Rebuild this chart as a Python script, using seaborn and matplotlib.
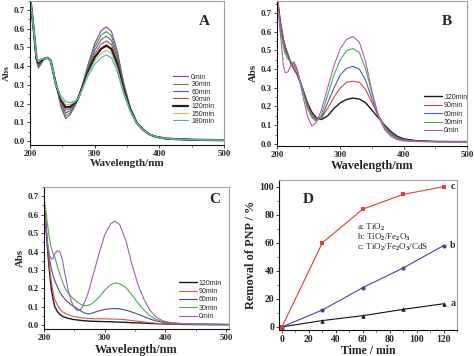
import numpy as np
import pandas as pd
import matplotlib
matplotlib.use("Agg")
import matplotlib.pyplot as plt
import matplotlib.ticker as mticker
import seaborn as sns

# -----------------------------------------------------------------------------
# Plotting attributes
# -----------------------------------------------------------------------------
sns.set_theme(style="ticks")
plt.rcParams["font.family"] = ["Liberation Serif", "DejaVu Serif"]
plt.rcParams["font.weight"] = "bold"
plt.rcParams["axes.labelweight"] = "bold"
plt.rcParams["mathtext.fontset"] = "custom"
plt.rcParams["mathtext.rm"] = "Liberation Serif"
plt.rcParams["mathtext.it"] = "Liberation Serif:italic"
plt.rcParams["mathtext.bf"] = "Liberation Serif:bold"

lw = 0.8
tick_fs = 6.3
leg_font = {"family": "Liberation Sans", "size": 5.0, "weight": "normal"}

# -----------------------------------------------------------------------------
# Data
# -----------------------------------------------------------------------------

# Panel A
wl_a = [200, 205, 210, 213, 217, 222, 227, 232, 240, 248, 255, 262, 270, 274, 280, 290,
        300, 310, 318, 326, 335, 345, 355, 365, 375, 385, 395, 410, 430, 460, 500]
a_0 = [0.78, 0.62, 0.43, 0.39, 0.41, 0.44, 0.445, 0.43, 0.31, 0.18, 0.12, 0.14, 0.19, 0.225, 0.29, 0.41,
       0.52, 0.59, 0.61, 0.585, 0.48, 0.31, 0.18, 0.10, 0.06, 0.035, 0.022, 0.013, 0.009, 0.006, 0.004]
a_30 = [0.78, 0.62, 0.433, 0.397, 0.415, 0.44, 0.445, 0.43, 0.308, 0.19, 0.135, 0.151, 0.194, 0.225, 0.287, 0.40,
        0.502, 0.566, 0.585, 0.562, 0.462, 0.30, 0.177, 0.099, 0.06, 0.035, 0.022, 0.013, 0.009, 0.006, 0.004]
a_60 = [0.78, 0.62, 0.437, 0.403, 0.42, 0.44, 0.445, 0.43, 0.307, 0.20, 0.15, 0.162, 0.198, 0.225, 0.283, 0.39,
        0.483, 0.542, 0.56, 0.538, 0.443, 0.29, 0.173, 0.098, 0.06, 0.035, 0.022, 0.013, 0.009, 0.006, 0.004]
a_90 = [0.78, 0.62, 0.44, 0.41, 0.425, 0.44, 0.445, 0.43, 0.305, 0.21, 0.165, 0.173, 0.203, 0.225, 0.28, 0.38,
        0.465, 0.518, 0.535, 0.515, 0.425, 0.28, 0.17, 0.097, 0.06, 0.035, 0.022, 0.013, 0.009, 0.006, 0.004]
a_120 = [0.78, 0.62, 0.443, 0.417, 0.43, 0.44, 0.445, 0.43, 0.303, 0.22, 0.18, 0.183, 0.207, 0.225, 0.277, 0.37,
         0.447, 0.493, 0.51, 0.492, 0.407, 0.27, 0.167, 0.097, 0.06, 0.035, 0.022, 0.013, 0.009, 0.006, 0.004]
a_150 = [0.78, 0.62, 0.447, 0.423, 0.435, 0.44, 0.445, 0.43, 0.302, 0.23, 0.195, 0.194, 0.211, 0.225, 0.273, 0.36,
         0.428, 0.469, 0.485, 0.468, 0.388, 0.26, 0.163, 0.096, 0.06, 0.035, 0.022, 0.013, 0.009, 0.006, 0.004]
a_180 = [0.78, 0.62, 0.45, 0.43, 0.44, 0.44, 0.445, 0.43, 0.30, 0.24, 0.21, 0.205, 0.215, 0.225, 0.27, 0.35,
         0.41, 0.445, 0.46, 0.445, 0.37, 0.25, 0.16, 0.095, 0.06, 0.035, 0.022, 0.013, 0.009, 0.006, 0.004]
labels_a = ["0min", "30min", "60min", "90min", "120min", "150min", "180min"]
colors_a = ["#8E3E8E", "#3A9A3A", "#4A5FB0", "#D84040", "#202020", "#C8C060", "#40B8B8"]

# Panel B
wl_b = [200, 205, 210, 213, 217, 222, 227, 232, 240, 248, 255, 262, 270, 280, 290,
        300, 310, 320, 330, 340, 350, 360, 370, 380, 390, 400, 420, 450, 500]
b_120 = [0.80, 0.66, 0.56, 0.52, 0.48, 0.43, 0.40, 0.37, 0.30, 0.22, 0.17, 0.14, 0.13, 0.15, 0.19,
         0.22, 0.238, 0.245, 0.24, 0.22, 0.18, 0.14, 0.10, 0.065, 0.04, 0.027, 0.017, 0.013, 0.012]
b_90 = [0.80, 0.66, 0.56, 0.52, 0.48, 0.43, 0.40, 0.37, 0.30, 0.21, 0.16, 0.13, 0.135, 0.19, 0.25,
        0.30, 0.33, 0.335, 0.33, 0.29, 0.22, 0.15, 0.095, 0.055, 0.033, 0.022, 0.015, 0.012, 0.011]
b_60 = [0.80, 0.64, 0.54, 0.50, 0.47, 0.43, 0.42, 0.39, 0.30, 0.20, 0.15, 0.125, 0.14, 0.22, 0.30,
        0.37, 0.405, 0.415, 0.40, 0.34, 0.24, 0.15, 0.09, 0.05, 0.03, 0.02, 0.014, 0.012, 0.01]
b_30 = [0.80, 0.62, 0.52, 0.48, 0.455, 0.44, 0.43, 0.39, 0.29, 0.19, 0.14, 0.12, 0.155, 0.26, 0.37,
        0.45, 0.50, 0.51, 0.49, 0.40, 0.27, 0.155, 0.085, 0.045, 0.026, 0.018, 0.013, 0.011, 0.01]
b_0 = [0.80, 0.60, 0.42, 0.38, 0.385, 0.42, 0.44, 0.40, 0.27, 0.15, 0.095, 0.115, 0.18, 0.30, 0.42,
       0.51, 0.56, 0.575, 0.545, 0.44, 0.28, 0.15, 0.075, 0.04, 0.022, 0.015, 0.012, 0.011, 0.01]
labels_bc = ["120min", "90min", "60min", "30min", "0min"]
colors_b = ["#1A1A1A", "#E04040", "#4A5FB0", "#50A850", "#B060B0"]

# Panel C
wl_c = [200, 203, 206, 209, 212, 215, 218, 222, 226, 230, 235, 240, 245, 250, 255, 260, 265, 270,
        275, 280, 290, 300, 310, 317, 325, 335, 345, 355, 365, 375, 385, 395, 410, 430, 460, 510]
c_120 = [0.68, 0.55, 0.41, 0.29, 0.20, 0.14, 0.10, 0.075, 0.06, 0.05, 0.043, 0.038, 0.034, 0.031, 0.029, 0.027, 0.025, 0.024,
         0.023, 0.022, 0.021, 0.02, 0.019, 0.018, 0.017, 0.016, 0.014, 0.013, 0.012, 0.01, 0.009, 0.008, 0.006, 0.005, 0.004, 0.003]
c_90 = [0.66, 0.55, 0.43, 0.32, 0.24, 0.18, 0.14, 0.11, 0.09, 0.075, 0.065, 0.058, 0.052, 0.048, 0.045, 0.042, 0.04, 0.038,
        0.037, 0.036, 0.035, 0.035, 0.034, 0.034, 0.033, 0.03, 0.026, 0.022, 0.018, 0.014, 0.011, 0.009, 0.007, 0.006, 0.005, 0.004]
c_60 = [0.62, 0.52, 0.43, 0.36, 0.31, 0.27, 0.24, 0.21, 0.18, 0.16, 0.14, 0.125, 0.11, 0.10, 0.09, 0.08, 0.07, 0.063,
        0.062, 0.067, 0.078, 0.086, 0.09, 0.091, 0.089, 0.082, 0.072, 0.06, 0.047, 0.034, 0.024, 0.017, 0.012, 0.008, 0.006, 0.004]
c_30 = [0.70, 0.62, 0.54, 0.47, 0.42, 0.39, 0.37, 0.32, 0.28, 0.24, 0.20, 0.175, 0.155, 0.14, 0.125, 0.115, 0.108, 0.107,
        0.11, 0.12, 0.15, 0.19, 0.22, 0.23, 0.225, 0.205, 0.165, 0.12, 0.082, 0.052, 0.032, 0.02, 0.013, 0.009, 0.007, 0.005]
c_0 = [0.64, 0.55, 0.45, 0.38, 0.36, 0.36, 0.39, 0.405, 0.40, 0.36, 0.27, 0.19, 0.13, 0.095, 0.08, 0.085, 0.11, 0.15,
       0.20, 0.26, 0.38, 0.49, 0.55, 0.565, 0.545, 0.46, 0.33, 0.22, 0.14, 0.08, 0.045, 0.025, 0.014, 0.009, 0.007, 0.005]
colors_c = ["#1A1A1A", "#E05050", "#4050A0", "#50A850", "#A060A8"]

# Panel D
time_d = [0, 30, 60, 90, 120]
rem_a = [0, 4.5, 8, 12.5, 16.5]
rem_b = [0, 12, 28, 42, 58]
rem_c = [0, 60, 84, 94.5, 100]


# -----------------------------------------------------------------------------
# Helpers
# -----------------------------------------------------------------------------
def style_axes(ax, fs=tick_fs):
    for side in ["left", "bottom"]:
        ax.spines[side].set_color("#111111")
        ax.spines[side].set_linewidth(0.8)
    for side in ["top", "right"]:
        ax.spines[side].set_color("#A0A0A0")
        ax.spines[side].set_linewidth(0.8)
    ax.tick_params(which="both", direction="out", top=False, right=False,
                   labelsize=fs, pad=1.5)
    ax.tick_params(which="major", length=2.2, width=0.6)
    ax.tick_params(which="minor", length=1.2, width=0.5)


def spectrum_axes(ax, xmax, xlabel_fs, ylabel_fs):
    ax.set_xlim(200, xmax)
    ax.xaxis.set_major_locator(mticker.FixedLocator([200, 300, 400, 500]))
    ax.xaxis.set_minor_locator(mticker.FixedLocator([250, 350, 450]))
    ax.yaxis.set_major_locator(mticker.MultipleLocator(0.1))
    ax.yaxis.set_major_formatter(mticker.FormatStrFormatter("%.1f"))
    ax.yaxis.set_minor_locator(mticker.MultipleLocator(0.05))
    ax.set_xlabel("Wavelength/nm", fontsize=xlabel_fs, labelpad=1)
    ax.set_ylabel("Abs", fontsize=ylabel_fs, labelpad=2)


fig = plt.figure(figsize=(4.74, 3.56), dpi=100)

# -----------------------------------------------------------------------------
# Panel A
# -----------------------------------------------------------------------------
ax = fig.add_axes([0.0633, 0.5935, 0.4093, 0.4045])
for y, lab, col in zip([a_0, a_30, a_60, a_90, a_120, a_150, a_180], labels_a, colors_a):
    sns.lineplot(x=wl_a, y=y, ax=ax, color=col, lw=1.6 if lab == "120min" else lw, label=lab)
ax.set_ylim(-0.02, 0.75)
spectrum_axes(ax, 500, 8, 6.8)
ax.legend(loc="center left", bbox_to_anchor=(0.72, 0.315), frameon=False, prop=leg_font,
          handlelength=2.2, handletextpad=0.4, labelspacing=0.05, borderpad=0)
ax.text(0.90, 0.855, "A", transform=ax.transAxes, fontsize=11, ha="center", va="center")
style_axes(ax)

# -----------------------------------------------------------------------------
# Panel B
# -----------------------------------------------------------------------------
ax = fig.add_axes([0.5844, 0.5907, 0.4008, 0.4065])
for y, lab, col in zip([b_120, b_90, b_60, b_30, b_0], labels_bc, colors_b):
    sns.lineplot(x=wl_b, y=y, ax=ax, color=col, lw=1.0 if lab == "120min" else lw, label=lab)
ax.set_ylim(-0.01, 0.765)
spectrum_axes(ax, 500, 8.8, 7.8)
ax.legend(loc="center left", bbox_to_anchor=(0.755, 0.218), frameon=False, prop=leg_font,
          handlelength=2.6, handletextpad=0.3, labelspacing=0.2, borderpad=0)
ax.text(0.895, 0.857, "B", transform=ax.transAxes, fontsize=11, ha="center", va="center")
style_axes(ax)

# -----------------------------------------------------------------------------
# Panel C
# -----------------------------------------------------------------------------
ax = fig.add_axes([0.0928, 0.0758, 0.3903, 0.3989])
for y, lab, col in zip([c_120, c_90, c_60, c_30, c_0], labels_bc, colors_c):
    sns.lineplot(x=wl_c, y=y, ax=ax, color=col, lw=1.0 if lab == "120min" else lw, label=lab)
ax.set_ylim(-0.02, 0.75)
spectrum_axes(ax, 505, 8.8, 7.8)
ax.legend(loc="center left", bbox_to_anchor=(0.71, 0.205), frameon=False, prop=leg_font,
          handlelength=2.6, handletextpad=0.3, labelspacing=0.2, borderpad=0)
ax.text(0.924, 0.91, "C", transform=ax.transAxes, fontsize=11, ha="center", va="center")
style_axes(ax)

# -----------------------------------------------------------------------------
# Panel D
# -----------------------------------------------------------------------------
ax = fig.add_axes([0.5892, 0.0739, 0.3749, 0.4213])
sns.lineplot(x=time_d, y=rem_a, ax=ax, color="#111111", lw=lw, marker="^", markersize=3.2,
             markeredgewidth=0)
sns.lineplot(x=time_d, y=rem_b, ax=ax, color="#3B4BA0", lw=lw, marker="o", markersize=3.0,
             markeredgewidth=0)
sns.lineplot(x=time_d, y=rem_c, ax=ax, color="#E83A3A", lw=lw, marker="s", markersize=2.8,
             markeredgewidth=0)
ax.set_xlim(-2, 130)
ax.set_ylim(-2, 105)
ax.xaxis.set_major_locator(mticker.MultipleLocator(20))
ax.xaxis.set_minor_locator(mticker.MultipleLocator(10))
ax.yaxis.set_major_locator(mticker.MultipleLocator(20))
ax.yaxis.set_minor_locator(mticker.MultipleLocator(10))
ax.set_xlabel("Time / min", fontsize=8.5, labelpad=1)
ax.set_ylabel("Removal of PNP / %", fontsize=8.8, labelpad=2)
for lab, yv in zip(["a", "b", "c"], [rem_a[-1], rem_b[-1], rem_c[-1]]):
    ax.text(time_d[-1] + 5, yv, lab, fontsize=7, ha="left", va="center")
for txt, yv in zip(["a: TiO$_2$", "b: TiO$_2$/Fe$_2$O$_3$", "c: TiO$_2$/Fe$_2$O$_3$/CdS"],
                   [71, 64, 57]):
    ax.text(56, yv, txt, fontsize=6.5, fontweight="normal", ha="left", va="center")
ax.text(0.165, 0.867, "D", transform=ax.transAxes, fontsize=11, ha="center", va="center")
style_axes(ax, fs=7)

plt.savefig("out.png", dpi=100)
